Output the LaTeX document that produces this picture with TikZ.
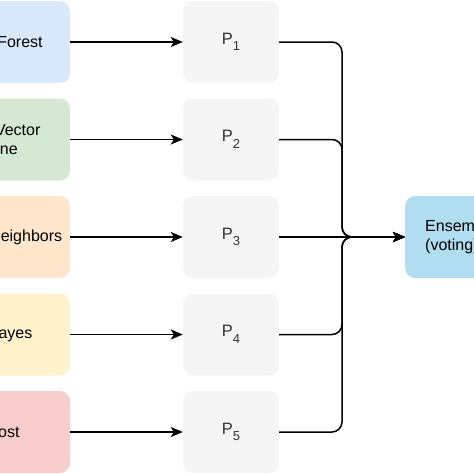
\documentclass[tikz,border=0pt]{standalone}
\usepackage{fontspec}
\setmainfont{Liberation Sans}
\usetikzlibrary{arrows.meta}
\definecolor{cblue}{HTML}{DAE8FC}
\definecolor{cgreen}{HTML}{D5E8D4}
\definecolor{corange}{HTML}{FFE6CC}
\definecolor{cyellow}{HTML}{FFF2CC}
\definecolor{cred}{HTML}{F8CECC}
\definecolor{cgray}{HTML}{F5F5F5}
\definecolor{censemble}{HTML}{B1DDF0}
\definecolor{ctext}{HTML}{333333}
\newcommand{\psub}[1]{P\raisebox{-6.5pt}{\fontsize{13}{13}\selectfont #1}}
\tikzset{
  model/.style={rounded corners=10pt, minimum width=165pt, minimum height=82pt, inner sep=0pt, align=center, font=\fontsize{16}{19}\selectfont, text=black},
  pbox/.style={rounded corners=10pt, fill=cgray, minimum width=96pt, minimum height=82pt, inner sep=0pt, font=\fontsize{16.5}{19}\selectfont, text=ctext},
  ensbox/.style={rounded corners=10pt, fill=censemble, minimum width=140pt, minimum height=82pt, text width=100pt, inner xsep=20pt, inner ysep=0pt, align=left, anchor=west, font=\fontsize{16}{19}\selectfont, text=black},
  arr/.style={line width=1.5pt, -{Stealth[length=12pt,width=10pt,inset=3pt]}},
  conn/.style={line width=1.5pt, rounded corners=10pt, -{Stealth[length=12pt,width=10pt,inset=3pt]}}
}
\begin{document}
\begin{tikzpicture}[x=1pt,y=-1pt]
\useasboundingbox (0,0) rectangle (474,474);
\clip (0,0) rectangle (474,474);
\node[model, fill=cblue]   (L1) at (-12.5,42)   {Random Forest};
\node[model, fill=cgreen]  (L2) at (-12.5,139.5) {Support Vector\\Machine};
\node[model, fill=corange] (L3) at (-12.5,237)  {K-Nearest Neighbors};
\node[model, fill=cyellow] (L4) at (-12.5,334.5) {Naive Bayes};
\node[model, fill=cred]    (L5) at (-12.5,432)  {XGBoost};
\node[pbox] (P1) at (231,42)    {\psub{1}};
\node[pbox] (P2) at (231,139.5) {\psub{2}};
\node[pbox] (P3) at (231,237)   {\psub{3}};
\node[pbox] (P4) at (231,334.5) {\psub{4}};
\node[pbox] (P5) at (231,432)   {\psub{5}};
\node[ensbox] (E) at (405,237) {Ensemble\\(voting)};
\coordinate (bus) at (342,0);
\foreach \i in {1,...,5} {
  \draw[arr] (L\i) -- (P\i);
}
\draw[conn] (P1.east) -- (P1.east -| bus) -- (E.west -| bus) -- (E.west);
\draw[conn] (P2.east) -- (P2.east -| bus) -- (E.west -| bus) -- (E.west);
\draw[conn] (P4.east) -- (P4.east -| bus) -- (E.west -| bus) -- (E.west);
\draw[conn] (P5.east) -- (P5.east -| bus) -- (E.west -| bus) -- (E.west);
\draw[arr] (P3.east) -- (E.west);
\end{tikzpicture}
\end{document}
